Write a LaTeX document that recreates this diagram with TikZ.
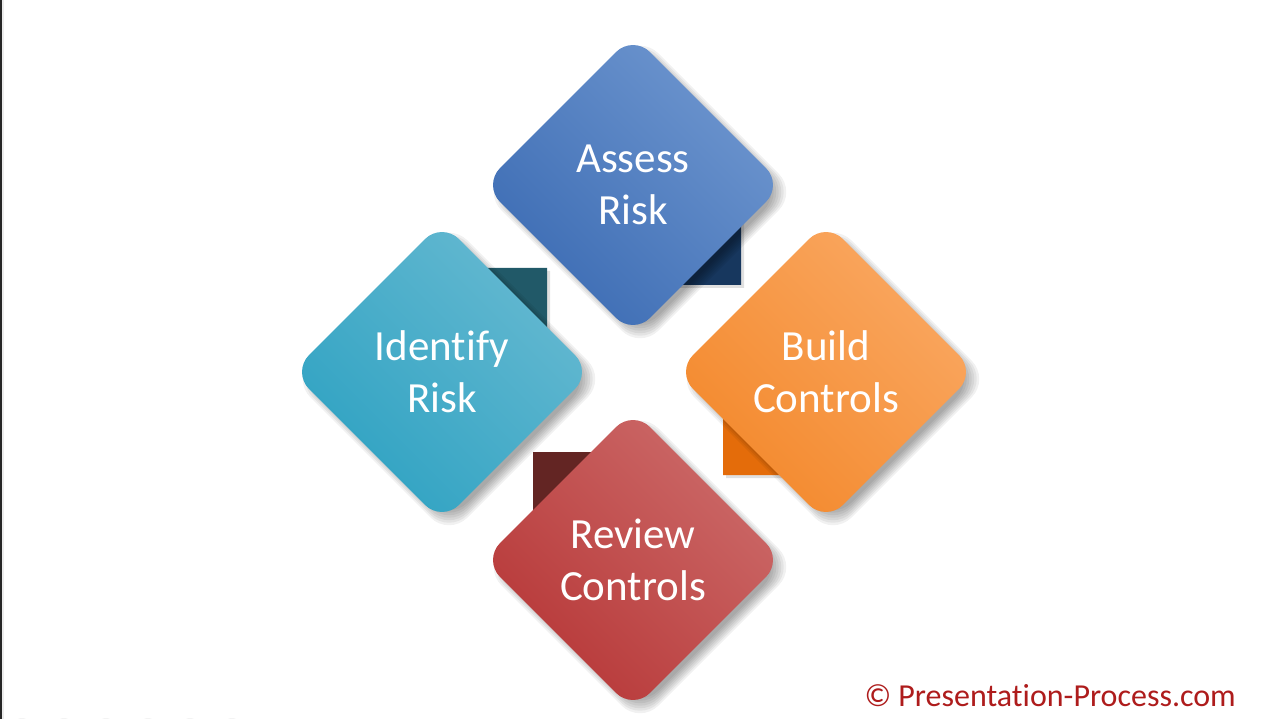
\documentclass[tikz,border=0pt]{standalone}
\usepackage{fontspec}
\setmainfont{Carlito}[Ligatures=NoCommon]
\usetikzlibrary{shapes.geometric}
\definecolor{blueL}{HTML}{6E96CF}
\definecolor{blueD}{HTML}{3B6BB3}
\definecolor{blueT}{HTML}{17375E}
\definecolor{tealL}{HTML}{66B9D1}
\definecolor{tealD}{HTML}{2EA2C2}
\definecolor{tealT}{HTML}{215968}
\definecolor{oranL}{HTML}{FAA862}
\definecolor{oranD}{HTML}{F3882B}
\definecolor{oranT}{HTML}{E46C0A}
\definecolor{redL}{HTML}{CC6A69}
\definecolor{redD}{HTML}{B73737}
\definecolor{redT}{HTML}{632523}
\definecolor{copyred}{HTML}{AE1C1C}
\newcommand\softshadow[2]{%
  \foreach \k in {0,...,6}{%
    \pgfmathsetmacro\ss{157-2.5*\k}%
    \fill[black, opacity=0.055, rounded corners=26]
      (#1+7,#2+7-\ss) -- (#1+7+\ss,#2+7) -- (#1+7,#2+7+\ss) -- (#1+7-\ss,#2+7) -- cycle;
  }%
}
\begin{document}
\begin{tikzpicture}[x=1pt,y=-1pt,
  box/.style 2 args={diamond, aspect=1, minimum size=300pt, inner sep=0pt,
    rounded corners=24pt, text=white, align=center,
    font=\fontsize{43}{52}\selectfont,
    top color=#1, bottom color=#2, shading angle=-45},
  tabshape/.style={fill=#1},
  tabshade/.style={fill=black, opacity=0.12},
  icon/.style={draw=gray!25, line width=1pt}]
\useasboundingbox (0,0) rectangle (1280,719);
\fill[white] (0,0) rectangle (1280,719);
\fill[black!85] (0,0) rectangle (2,719);
\fill[gray!15] (2,0) rectangle (4,719);
% faint icons at the bottom edge
\foreach \i in {0,...,5}{
  \draw[icon] (22+42*\i,734) circle (15);
}
% tabs (behind the diamonds)
\coordinate (tA) at (741,285);
\coordinate (tI) at (547,268);
\coordinate (tB) at (723,475);
\coordinate (tR) at (533,452);
\fill[tabshade] ([shift={(3,3)}]tA) -- ++(0,-70) -- ++(-70,70) -- cycle;
\fill[tabshade] ([shift={(3,3)}]tI) -- ++(-67,0) -- ++(67,67) -- cycle;
\fill[tabshade] ([shift={(3,3)}]tB) -- ++(0,-65) -- ++(65,65) -- cycle;
\fill[tabshade] ([shift={(3,3)}]tR) -- ++(67,0) -- ++(-67,67) -- cycle;
\fill[tabshape=blueT] (tA) -- ++(0,-70) -- ++(-70,70) -- cycle;
\fill[tabshape=tealT] (tI) -- ++(-67,0) -- ++(67,67) -- cycle;
\fill[tabshape=oranT] (tB) -- ++(0,-65) -- ++(65,65) -- cycle;
\fill[tabshape=redT] (tR) -- ++(67,0) -- ++(-67,67) -- cycle;
% shadows
\softshadow{633}{185}
\softshadow{442}{372}
\softshadow{826}{372}
\softshadow{633}{560}
% diamonds
\node[box={blueL}{blueD}] (assess) at (633,185) {Assess\\Risk};
\node[box={tealL}{tealD}] (identify) at (442,372) {Identify\\Risk};
\node[box={oranL}{oranD}] (build) at (826,372) {Build\\Controls};
\node[box={redL}{redD}] (review) at (633,560) {Review\\Controls};
% copyright
\node[anchor=base east, text=copyred, inner sep=0pt,
  font=\fontsize{32}{36}\selectfont] (copy) at (1236,706) {© Presentation-Process.com};
\end{tikzpicture}
\end{document}
